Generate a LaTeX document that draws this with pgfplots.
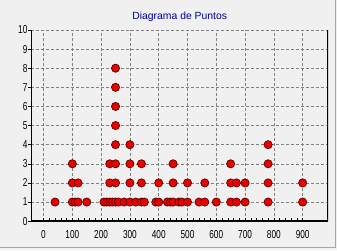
\documentclass[border=0pt]{standalone}
\usepackage{pgfplots}
\pgfplotsset{compat=1.18}
\usepackage{fontspec}
\setmainfont{Liberation Sans}
\newfontfamily\tickfont[FakeStretch=0.72]{Liberation Sans}
\definecolor{bg}{RGB}{240,240,240}
\definecolor{titleblue}{RGB}{0,0,160}
\definecolor{dotred}{RGB}{235,0,0}
\definecolor{dotedge}{RGB}{90,0,0}
\definecolor{gridgray}{RGB}{128,128,128}
\begin{document}
\begin{tikzpicture}[x=1pt,y=1pt]
\fill[bg] (0,0) rectangle (337,250);
\draw[black!35, line width=1pt] (0,2.5) -- (335.5,2.5) -- (335.5,250);
\begin{axis}[
  at={(31pt,29pt)}, anchor=south west, scale only axis,
  width=297pt, height=191.5pt,
  xmin=-42, xmax=988, ymin=0, ymax=10,
  xtick={0,100,...,900}, ytick={0,1,...,10},
  minor x tick num=4,
  axis x line*=bottom, axis y line*=left,
  axis line style={line width=1.6pt, black, -},
  xtick align=inside, ytick align=outside,
  major tick length=3.5pt, minor tick length=3pt,
  tick style={black, line width=0.6pt},
  grid=major,
  major grid style={gridgray, line width=0.6pt, dash pattern=on 3pt off 2pt},
  /pgf/number format/assume math mode=true,
  tick label style={font=\tickfont\fontsize{11.5}{13}\selectfont, text=black},
  xticklabel style={yshift=-5.5pt},
  yticklabel style={xshift=3pt},
  title={Diagrama de Puntos},
  title style={font=\fontsize{10.4}{12}\selectfont, text=titleblue, at={(0.5,1)}, anchor=base, yshift=4.5pt},
]
\addplot[only marks, mark=*, mark size=4.1pt,
  mark options={fill=dotred, draw=dotedge, line width=0.7pt}]
coordinates {
(40,1)(100,1)(110,1)(120,1)(150,1)(210,1)(220,1)(230,1)(240,1)(250,1)(260,1)(280,1)(300,1)(320,1)(340,1)(350,1)
(390,1)(400,1)(430,1)(440,1)(450,1)(470,1)(480,1)(500,1)(540,1)(560,1)(600,1)(650,1)(670,1)(700,1)(780,1)(900,1)
(100,2)(120,2)(230,2)(250,2)(300,2)(340,2)(400,2)(450,2)(500,2)(560,2)(650,2)(670,2)(700,2)(780,2)(900,2)
(100,3)(230,3)(250,3)(300,3)(340,3)(450,3)(650,3)(780,3)
(250,4)(300,4)(780,4)
(250,5)(250,6)(250,7)(250,8)
};
\draw[black, line width=1.5pt] (rel axis cs:1,0) -- (rel axis cs:1,1);
\end{axis}
\end{tikzpicture}
\end{document}
